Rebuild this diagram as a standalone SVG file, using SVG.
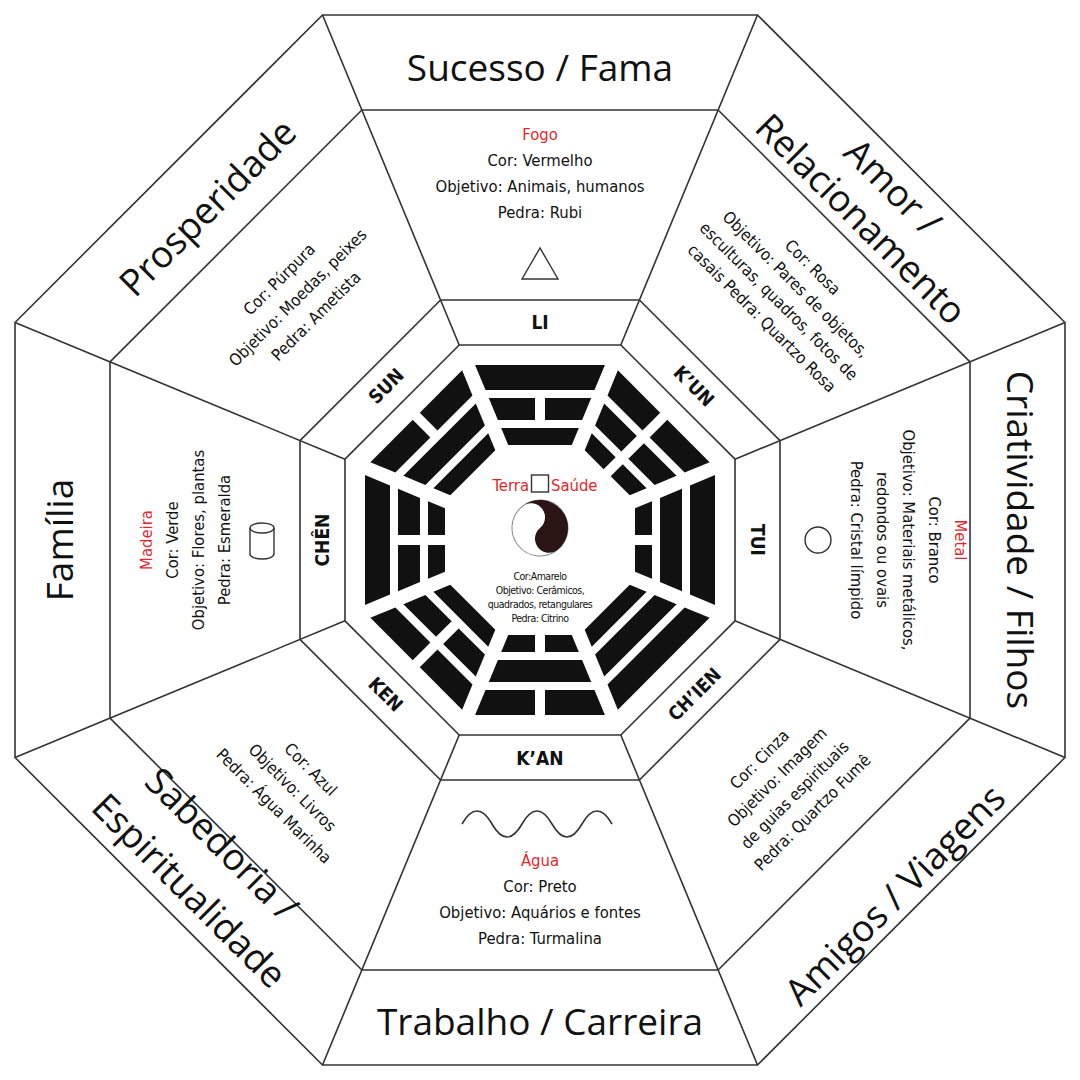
<svg xmlns="http://www.w3.org/2000/svg" xmlns:xlink="http://www.w3.org/1999/xlink" width="1080" height="1080" viewBox="0 0 1080 1080">
<style>
.ln{fill:none;stroke:#333;stroke-width:1.6}
.big{font-family:"Open Sans","DejaVu Sans",sans-serif;font-size:37px;fill:#111;text-anchor:middle}
.lab{font-family:"DejaVu Sans Condensed","DejaVu Sans",sans-serif;font-weight:bold;font-size:19px;fill:#111;text-anchor:middle}
.t{font-family:"DejaVu Sans Condensed","DejaVu Sans",sans-serif;font-stretch:condensed;font-size:16.5px;fill:#111;text-anchor:middle}
.r{fill:#e3262b}
.c{font-family:"DejaVu Sans Condensed","DejaVu Sans",sans-serif;font-size:10.5px;fill:#111;text-anchor:middle;letter-spacing:-0.5px}
.bar{fill:#111}
</style>
<defs>
<g id="os"><polygon class="bar" points="475.1,365 604.9,365 594.5,390 485.5,390"/></g>
<g id="ob"><polygon class="bar" points="475.1,365 535,365 535,390 485.5,390"/><polygon class="bar" points="545,365 604.9,365 594.5,390 545,390"/></g>
<g id="ms"><polygon class="bar" points="488.8,398 591.2,398 582.1,420 497.9,420"/></g>
<g id="mb"><polygon class="bar" points="488.8,398 535,398 535,420 497.9,420"/><polygon class="bar" points="545,398 591.2,398 582.1,420 545,420"/></g>
<g id="is"><polygon class="bar" points="501.2,428 578.8,428 571.8,445 508.2,445"/></g>
<g id="ib"><polygon class="bar" points="501.2,428 535,428 535,445 508.2,445"/><polygon class="bar" points="545,428 578.8,428 571.8,445 545,445"/></g>
</defs>
<rect width="1080" height="1080" fill="#fff"/>
<g id="frame">
<polygon class="ln" points="322.5,15 757.5,15 1065,322.5 1065,757.5 757.5,1065 322.5,1065 15,757.5 15,322.5"/>
<polygon class="ln" points="361.9,110 718.1,110 970,361.9 970,718.1 718.1,970 361.9,970 110,718.1 110,361.9"/>
<polygon class="ln" points="440.6,300 639.4,300 780,440.6 780,639.4 639.4,780 440.6,780 300,639.4 300,440.6"/>
<polygon class="ln" points="459.2,345 620.8,345 735,459.2 735,620.8 620.8,735 459.2,735 345,620.8 345,459.2"/>
</g>
<g id="connectors">
<path class="ln" d="M459.2,345L322.5,15M620.8,345L757.5,15M735,459.2L1065,322.5M735,620.8L1065,757.5M620.8,735L757.5,1065M459.2,735L322.5,1065M345,620.8L15,757.5M345,459.2L15,322.5"/>
</g>
<g id="trigrams">
<g id="tri-li"><use xlink:href="#os"/><use xlink:href="#mb"/><use xlink:href="#is"/></g>
<g id="tri-kun" transform="rotate(45 540 540)"><use xlink:href="#ob"/><use xlink:href="#mb"/><use xlink:href="#ib"/></g>
<g id="tri-tui" transform="rotate(90 540 540)"><use xlink:href="#os"/><use xlink:href="#ms"/><use xlink:href="#ib"/></g>
<g id="tri-chien" transform="rotate(135 540 540)"><use xlink:href="#os"/><use xlink:href="#ms"/><use xlink:href="#is"/></g>
<g id="tri-kan" transform="rotate(180 540 540)"><use xlink:href="#ob"/><use xlink:href="#ms"/><use xlink:href="#ib"/></g>
<g id="tri-ken" transform="rotate(225 540 540)"><use xlink:href="#ob"/><use xlink:href="#mb"/><use xlink:href="#is"/></g>
<g id="tri-chen" transform="rotate(270 540 540)"><use xlink:href="#os"/><use xlink:href="#mb"/><use xlink:href="#ib"/></g>
<g id="tri-sun" transform="rotate(315 540 540)"><use xlink:href="#ob"/><use xlink:href="#ms"/><use xlink:href="#is"/></g>
</g>
<g id="labels">
<text class="lab" x="540" y="329">LI</text>
<text class="lab" x="540" y="329" transform="rotate(45 540 540)">K’UN</text>
<text class="lab" x="540" y="329" transform="rotate(90 540 540)">TUI</text>
<text class="lab" x="540" y="765" transform="rotate(-45 540 540)">CH’IEN</text>
<text class="lab" x="540" y="765">K’AN</text>
<text class="lab" x="540" y="765" transform="rotate(45 540 540)">KEN</text>
<text class="lab" x="540" y="329" transform="rotate(-90 540 540)">CHÊN</text>
<text class="lab" x="540" y="329" transform="rotate(-45 540 540)">SUN</text>
</g>
<g id="center">
<text class="t r" x="529" y="491" style="text-anchor:end">Terra</text>
<text class="t r" x="551" y="491" style="text-anchor:start">Saúde</text>
<rect x="531.5" y="475" width="17" height="17" fill="#fff" stroke="#333" stroke-width="1.4"/>
<g transform="rotate(-40 540 528)">
<circle cx="540" cy="528" r="28" fill="#fff" stroke="#888" stroke-width="1"/>
<path d="M540,500 A28,28 0 0 1 540,556 A14,14 0 0 1 540,528 A14,14 0 0 0 540,500Z" fill="#2a1414"/>
<circle cx="540" cy="514" r="4.5" fill="#fff"/>
<circle cx="540" cy="542" r="4.5" fill="#2a1414"/>
</g>
<text class="c" x="540" y="580">Cor:Amarelo</text>
<text class="c" x="540" y="594">Objetivo: Cerâmicos,</text>
<text class="c" x="540" y="608">quadrados, retangulares</text>
<text class="c" x="540" y="622">Pedra: Citrino</text>
</g>
<g id="fogo">
<text class="t r" x="540" y="140">Fogo</text>
<text class="t" x="540" y="166">Cor: Vermelho</text>
<text class="t" x="540" y="192">Objetivo: Animais, humanos</text>
<text class="t" x="540" y="218">Pedra: Rubi</text>
<polygon points="540,248 522,279 558,279" fill="none" stroke="#333" stroke-width="1.4"/>
</g>
<g id="rosa" transform="rotate(45 540 540)">
<text class="t" x="540" y="160">Cor: Rosa</text>
<text class="t" x="540" y="184">Objetivo: Pares de objetos,</text>
<text class="t" x="540" y="208">esculturas, quadros, fotos de</text>
<text class="t" x="540" y="232">casais Pedra: Quartzo Rosa</text>
</g>
<g id="metal" transform="rotate(90 540 540)">
<text class="t r" x="540" y="125">Metal</text>
<text class="t" x="540" y="151">Cor: Branco</text>
<text class="t" x="540" y="177">Objetivo: Materiais metálicos,</text>
<text class="t" x="540" y="203">redondos ou ovais</text>
<text class="t" x="540" y="229">Pedra: Cristal límpido</text>
</g>
<circle cx="818" cy="540" r="13" fill="none" stroke="#333" stroke-width="1.4"/>
<g id="cinza" transform="rotate(-45 540 540)">
<text class="t" x="540" y="856">Cor: Cinza</text>
<text class="t" x="540" y="881">Objetivo: Imagem</text>
<text class="t" x="540" y="906">de guias espirituais</text>
<text class="t" x="540" y="931">Pedra: Quartzo Fumê</text>
</g>
<g id="agua">
<path d="M462,824 q15,-26 30,0 t30,0 t30,0 t30,0 t30,0" fill="none" stroke="#333" stroke-width="1.6"/>
<text class="t r" x="540" y="866">Água</text>
<text class="t" x="540" y="892">Cor: Preto</text>
<text class="t" x="540" y="918">Objetivo: Aquários e fontes</text>
<text class="t" x="540" y="944">Pedra: Turmalina</text>
</g>
<g id="azul" transform="rotate(45 540 540)">
<text class="t" x="540" y="870">Cor: Azul</text>
<text class="t" x="540" y="896">Objetivo: Livros</text>
<text class="t" x="540" y="922">Pedra: Água Marinha</text>
</g>
<g id="madeira" transform="rotate(-90 540 540)">
<text class="t r" x="540" y="152">Madeira</text>
<text class="t" x="540" y="178">Cor: Verde</text>
<text class="t" x="540" y="204">Objetivo: Flores, plantas</text>
<text class="t" x="540" y="230">Pedra: Esmeralda</text>
</g>
<g id="cyl" fill="none" stroke="#333" stroke-width="1.4">
<ellipse cx="262" cy="528" rx="12" ry="5"/>
<path d="M250,528 V554 A12,5 0 0 0 274,554 V528"/>
</g>
<g id="purpura" transform="rotate(-45 540 540)">
<text class="t" x="540" y="177">Cor: Púrpura</text>
<text class="t" x="540" y="203">Objetivo: Moedas, peixes</text>
<text class="t" x="540" y="229">Pedra: Ametista</text>
</g>
<g id="areas">
<text class="big" x="540" y="81">Sucesso / Fama</text>
<g transform="rotate(45 540 540)"><text class="big" x="540" y="54">Amor /</text><text class="big" x="540" y="99">Relacionamento</text></g>
<text class="big" x="540" y="73" transform="rotate(90 540 540)">Criatividade / Filhos</text>
<text class="big" x="540" y="1055" transform="rotate(-45 540 540)">Amigos / Viagens</text>
<text class="big" x="540" y="1035">Trabalho / Carreira</text>
<g transform="rotate(45 540 540)"><text class="big" x="530" y="993">Sabedoria /</text><text class="big" x="540" y="1049">Espiritualidade</text></g>
<text class="big" x="540" y="73" transform="rotate(-90 540 540)">Família</text>
<text class="big" x="540" y="83" transform="rotate(-45 540 540)">Prosperidade</text>
</g>
</svg>
